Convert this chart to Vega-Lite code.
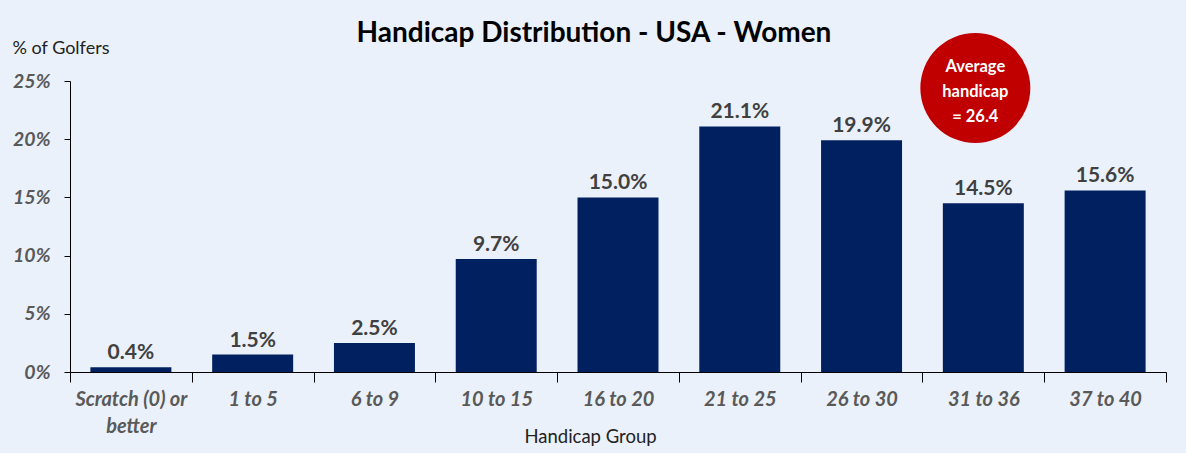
{
  "$schema": "https://vega.github.io/schema/vega-lite/v6.json",
  "autosize": "none",
  "width": 1096,
  "height": 291,
  "padding": {"left": 70, "top": 81, "right": 20, "bottom": 81},
  "background": "#EBF1FA",
  "title": {
    "text": "Handicap Distribution - USA - Women",
    "font": "Lato",
    "fontSize": 28,
    "fontWeight": "bold",
    "color": "#000000",
    "anchor": "middle",
    "dx": -24,
    "offset": -15
  },
  "config": {
    "view": {"stroke": null},
    "font": "Lato"
  },
  "datasets": {
    "groups": [
      {"group": "Scratch (0) or better", "share": 0.004},
      {"group": "1 to 5", "share": 0.015},
      {"group": "6 to 9", "share": 0.025},
      {"group": "10 to 15", "share": 0.097},
      {"group": "16 to 20", "share": 0.150},
      {"group": "21 to 25", "share": 0.211},
      {"group": "26 to 30", "share": 0.199},
      {"group": "31 to 36", "share": 0.145},
      {"group": "37 to 40", "share": 0.156}
    ],
    "note": [
      {"group": "31 to 36", "share": 0.244, "label": ["Average", "handicap", "= 26.4"]}
    ]
  },
  "encoding": {
    "x": {
      "field": "group",
      "type": "nominal",
      "sort": null,
      "scale": {"paddingInner": 0, "paddingOuter": 0},
      "axis": {
        "title": "Handicap Group",
        "titleFont": "Lato",
        "titleFontSize": 18.5,
        "titleFontWeight": "normal",
        "titleColor": "#222222",
        "titleX": 520,
        "titleY": 70,
        "titleBaseline": "alphabetic",
        "labelAngle": 0,
        "labelFont": "Lato",
        "labelFontSize": 20,
        "labelFontWeight": "bold",
        "labelFontStyle": "italic",
        "labelColor": "#595959",
        "labelPadding": 7,
        "labelLineHeight": 27,
        "labelExpr": "datum.value == 'Scratch (0) or better' ? ['Scratch (0) or', 'better'] : datum.value",
        "tickBand": "extent",
        "tickSize": 10,
        "tickColor": "#000000",
        "domainColor": "#000000",
        "grid": false
      }
    },
    "y": {
      "field": "share",
      "type": "quantitative",
      "scale": {"domain": [0, 0.25], "nice": false},
      "axis": {
        "title": "% of Golfers",
        "titleAngle": 0,
        "titleAlign": "left",
        "titleBaseline": "alphabetic",
        "titleX": -58,
        "titleY": -28,
        "titleFont": "Lato",
        "titleFontSize": 18,
        "titleFontWeight": "normal",
        "titleColor": "#222222",
        "values": [0, 0.05, 0.1, 0.15, 0.2, 0.25],
        "format": ".0%",
        "labelFont": "Lato",
        "labelFontSize": 19.5,
        "labelFontWeight": "bold",
        "labelFontStyle": "italic",
        "labelColor": "#595959",
        "labelPadding": 14,
        "tickSize": 6,
        "tickColor": "#000000",
        "domainColor": "#000000",
        "grid": false
      }
    }
  },
  "layer": [
    {
      "data": {"name": "groups"},
      "mark": {"type": "bar", "color": "#002060", "width": {"band": 0.665}}
    },
    {
      "data": {"name": "groups"},
      "mark": {
        "type": "text",
        "baseline": "alphabetic",
        "dy": -8,
        "font": "Lato",
        "fontSize": 21,
        "fontWeight": "bold",
        "color": "#404040"
      },
      "encoding": {
        "text": {"field": "share", "type": "quantitative", "format": ".1%"}
      }
    },
    {
      "data": {"name": "note"},
      "mark": {
        "type": "point",
        "shape": "circle",
        "filled": true,
        "opacity": 1,
        "color": "#C00000",
        "size": 12100,
        "xOffset": -8
      }
    },
    {
      "data": {"name": "note"},
      "mark": {
        "type": "text",
        "dx": -8,
        "dy": -21,
        "font": "Lato",
        "fontSize": 16.5,
        "fontWeight": "bold",
        "color": "#FFFFFF",
        "lineHeight": 25,
        "baseline": "middle"
      },
      "encoding": {
        "text": {"field": "label"}
      }
    }
  ]
}
